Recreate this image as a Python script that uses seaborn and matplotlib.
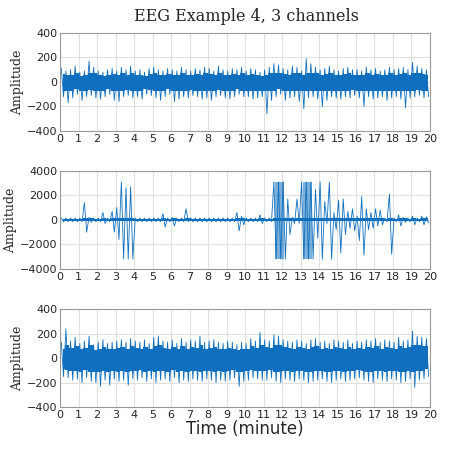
import numpy as np
import matplotlib
matplotlib.use("Agg")
import matplotlib.pyplot as plt
import seaborn as sns

# per-0.25-minute envelope values (80 bins, 0..20 min)
ch1_max = [110,90,100,130,80,90,170,120,90,80,100,110,90,120,100,130,
           90,100,80,110,120,100,90,110,100,90,120,100,90,110,100,120,
           110,90,130,100,90,110,100,120,90,110,100,80,100,120,150,140,
           110,100,130,120,90,190,150,120,100,110,130,100,90,110,120,100,
           100,90,120,100,110,90,100,120,100,110,120,100,160,130,110,100]
ch1_min = [-120,-170,-130,-100,-150,-120,-110,-130,-140,-120,-100,-150,-160,-120,-110,-130,
           -120,-140,-100,-110,-130,-150,-120,-100,-160,-140,-120,-130,-110,-120,-140,-130,
           -150,-120,-110,-130,-140,-120,-100,-120,-120,-140,-130,-120,-260,-150,-120,-100,
           -150,-130,-120,-160,-220,-130,-120,-140,-200,-150,-120,-130,-140,-120,-130,-110,
           -130,-200,-120,-140,-130,-120,-150,-130,-120,-140,-210,-130,-120,-110,-130,-120]
ch2_max = [150,150,150,150,150,1400,200,150,150,600,150,700,1000,3100,2600,2700,
           150,150,150,150,150,150,500,150,200,150,150,900,150,150,150,150,
           150,150,150,150,150,150,600,300,150,150,150,400,150,150,3100,3100,
           3100,1700,200,1700,3100,3100,3100,2500,3100,1500,3100,600,1600,1700,700,900,
           300,1900,900,600,900,800,150,2100,150,400,200,150,300,150,300,250]
ch2_min = [-150,-150,-150,-150,-150,-1000,-200,-150,-150,-300,-150,-1000,-1600,-3200,-3200,-3200,
           -150,-150,-150,-150,-150,-150,-600,-150,-500,-150,-150,-150,-150,-150,-150,-150,
           -150,-150,-150,-150,-150,-150,-900,-400,-150,-150,-150,-300,-150,-150,-3200,-3200,
           -3200,-1200,-300,-300,-3200,-3200,-3200,-1500,-3200,-300,-3200,-800,-2700,-1200,-700,-900,
           -1700,-2900,-800,-700,-500,-400,-150,-2800,-150,-500,-200,-150,-400,-150,-400,-250]
ch3_max = [130,240,140,170,120,140,180,110,130,150,120,130,140,150,130,160,
           140,130,150,120,170,180,140,130,150,120,160,130,150,140,180,130,
           140,150,130,120,140,130,110,130,120,160,140,210,150,140,190,180,
           150,140,130,150,140,120,150,160,130,140,120,150,140,130,150,120,
           140,130,150,140,160,130,150,140,130,170,140,150,220,180,170,160]
ch3_min = [-150,-160,-180,-170,-200,-160,-190,-200,-230,-180,-220,-170,-190,-180,-220,-170,
           -180,-160,-190,-170,-200,-180,-170,-190,-160,-200,-180,-190,-170,-180,-190,-170,
           -180,-200,-180,-190,-180,-160,-230,-190,-180,-160,-170,-180,-180,-160,-190,-200,
           -170,-180,-190,-170,-180,-200,-190,-180,-170,-190,-200,-180,-170,-190,-180,-170,
           -160,-180,-190,-200,-170,-180,-190,-170,-180,-200,-190,-170,-240,-180,-170,-150]
# typical dense-band half-width per channel
band = [70, 120, 110]
channels = [(ch1_max, ch1_min, 400), (ch2_max, ch2_min, 4000), (ch3_max, ch3_min, 400)]
tick_x = list(range(0, 21))
title = "EEG Example 4, 3 channels"

sns.set_style("whitegrid", {"grid.color": "#e0e0e0", "axes.edgecolor": "#999999"})
fig = plt.figure(figsize=(4.74, 4.58), dpi=100)
rects = [(0.127, 0.714), (0.127, 0.413), (0.127, 0.111)]
color = "#0f6fbf"
for i, ((mx, mn, lim), (l, b)) in enumerate(zip(channels, rects)):
    ax = fig.add_axes([l, b, 0.78, 0.214])
    mx_a, mn_a = np.array(mx), np.array(mn)
    n = len(mx)
    t = np.repeat(np.arange(n) * 0.25, 2) + np.tile([0.06, 0.18], n)
    y = np.empty(2 * n)
    y[0::2] = mx
    y[1::2] = mn
    tc = np.arange(n) * 0.25 + 0.125
    ax.fill_between(tc, np.minimum(mx_a * 0.6, band[i]),
                    np.maximum(mn_a * 0.6, -band[i]),
                    color=color, lw=0, step="mid")
    if i == 1:
        sat = (mx_a >= 3000).astype(int)
        run3 = np.convolve(sat, [1, 1, 1], mode="same") == 3
        inrun = run3 | np.roll(run3, 1) | np.roll(run3, -1)
        ax.fill_between(tc, mx_a, mn_a, where=inrun & (sat > 0),
                        color=color, alpha=0.55, lw=0, step="mid")
    sns.lineplot(x=t, y=y, ax=ax, color=color, linewidth=0.6, estimator=None, sort=False)
    ax.set_xlim(0, 20)
    ax.set_ylim(-lim, lim)
    ax.set_xticks(tick_x)
    ax.set_yticks(np.linspace(-lim, lim, 5))
    ax.tick_params(labelsize=8, length=0, pad=2)
    ax.set_ylabel("Amplitude", family="DejaVu Serif", fontsize=9, labelpad=2)
    for s in ax.spines.values():
        s.set_linewidth(0.8)
    if i == 2:
        ax.set_xlabel("Time (minute)", fontsize=12, labelpad=0)
fig.text(0.52, 0.955, title, ha="center", family="DejaVu Serif", fontsize=11.5)
fig.savefig("out.png", dpi=100)
